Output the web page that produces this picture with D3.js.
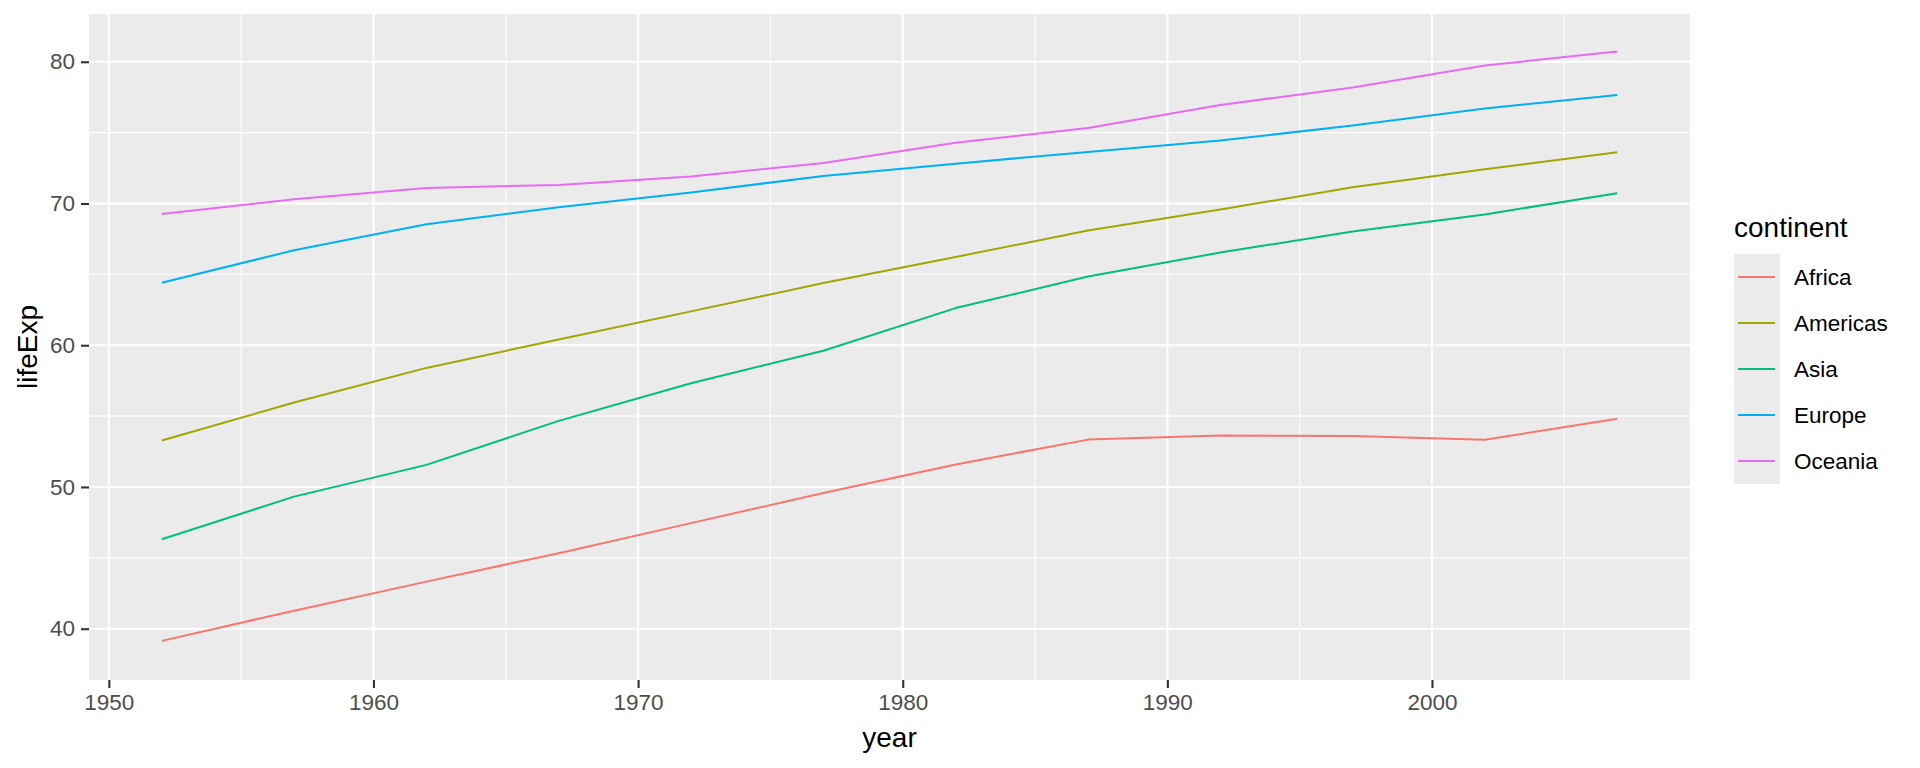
<!DOCTYPE html>
<html>
<head>
<meta charset="utf-8">
<script src="https://cdn.jsdelivr.net/npm/d3@7"></script>
<style>
  html, body { margin: 0; padding: 0; background: #fff; }
  svg { display: block; font-family: "Liberation Sans", Arial, sans-serif; }
</style>
</head>
<body>
<svg id="chart" width="1920" height="768"></svg>
<script>
// ---- data ----
const years = [1952, 1957, 1962, 1967, 1972, 1977, 1982, 1987, 1992, 1997, 2002, 2007];
const continents = ["Africa", "Americas", "Asia", "Europe", "Oceania"];
const africa   = [39.14, 41.27, 43.32, 45.33, 47.45, 49.58, 51.59, 53.34, 53.63, 53.60, 53.33, 54.81];
const americas = [53.28, 55.96, 58.40, 60.41, 62.39, 64.39, 66.23, 68.09, 69.57, 71.15, 72.42, 73.61];
const asia     = [46.31, 49.32, 51.56, 54.66, 57.32, 59.61, 62.62, 64.85, 66.54, 68.02, 69.23, 70.73];
const europe   = [64.41, 66.70, 68.54, 69.74, 70.78, 71.94, 72.81, 73.64, 74.44, 75.51, 76.70, 77.65];
const oceania  = [69.26, 70.30, 71.09, 71.31, 71.91, 72.86, 74.29, 75.32, 76.95, 78.19, 79.74, 80.72];
const seriesValues = [africa, americas, asia, europe, oceania];
const colors = ["#F8766D", "#A3A500", "#00BF7D", "#00B0F6", "#E76BF3"];
const xTicks = [1950, 1960, 1970, 1980, 1990, 2000];
const xMinor = [1955, 1965, 1975, 1985, 1995, 2005];
const yTicks = [40, 50, 60, 70, 80];
const yMinor = [45, 55, 65, 75];
const xDomain = [1949.25, 2009.75];
const yDomain = [36.38, 83.37];

// ---- layout ----
const svg = d3.select("#chart");
const panel = { left: 89, right: 1690, top: 14, bottom: 680 };
const x = d3.scaleLinear().domain(xDomain).range([panel.left, panel.right]);
const y = d3.scaleLinear().domain(yDomain).range([panel.bottom, panel.top]);

svg.append("rect")
  .attr("x", panel.left).attr("y", panel.top)
  .attr("width", panel.right - panel.left).attr("height", panel.bottom - panel.top)
  .attr("fill", "#EBEBEB");

const grid = svg.append("g");
grid.selectAll(".ymin").data(yMinor).enter().append("line")
  .attr("x1", panel.left).attr("x2", panel.right)
  .attr("y1", d => y(d)).attr("y2", d => y(d))
  .attr("stroke", "#fff").attr("stroke-width", 1.1);
grid.selectAll(".xmin").data(xMinor).enter().append("line")
  .attr("y1", panel.top).attr("y2", panel.bottom)
  .attr("x1", d => x(d)).attr("x2", d => x(d))
  .attr("stroke", "#fff").attr("stroke-width", 1.1);
grid.selectAll(".ymaj").data(yTicks).enter().append("line")
  .attr("x1", panel.left).attr("x2", panel.right)
  .attr("y1", d => y(d)).attr("y2", d => y(d))
  .attr("stroke", "#fff").attr("stroke-width", 2.1);
grid.selectAll(".xmaj").data(xTicks).enter().append("line")
  .attr("y1", panel.top).attr("y2", panel.bottom)
  .attr("x1", d => x(d)).attr("x2", d => x(d))
  .attr("stroke", "#fff").attr("stroke-width", 2.1);

// ---- lines ----
const line = d3.line().x((d, i) => x(years[i])).y(d => y(d));
svg.append("g").selectAll("path").data(seriesValues).enter().append("path")
  .attr("d", d => line(d))
  .attr("fill", "none")
  .attr("stroke", (d, i) => colors[i])
  .attr("stroke-width", 2)
  .attr("stroke-linejoin", "round");

// ---- axes ----
const xAxis = d3.axisBottom(x).tickValues(xTicks).tickFormat(d3.format("d")).tickSize(8).tickPadding(6);
const gx = svg.append("g").attr("transform", `translate(0,${panel.bottom})`).call(xAxis);
gx.select(".domain").remove();
gx.selectAll(".tick line").attr("stroke", "#333333").attr("stroke-width", 2.1);
gx.selectAll(".tick text").attr("fill", "#4D4D4D").attr("font-size", 22.5)
  .attr("font-family", "Liberation Sans, Arial, sans-serif");

const yAxis = d3.axisLeft(y).tickValues(yTicks).tickSize(8).tickPadding(6);
const gy = svg.append("g").attr("transform", `translate(${panel.left},0)`).call(yAxis);
gy.select(".domain").remove();
gy.selectAll(".tick line").attr("stroke", "#333333").attr("stroke-width", 2.1);
gy.selectAll(".tick text").attr("fill", "#4D4D4D").attr("font-size", 22.5)
  .attr("font-family", "Liberation Sans, Arial, sans-serif");

svg.append("text")
  .attr("x", (panel.left + panel.right) / 2).attr("y", 747)
  .attr("text-anchor", "middle").attr("font-size", 28).attr("fill", "#000")
  .text("year");
svg.append("text")
  .attr("transform", `translate(37,${(panel.top + panel.bottom) / 2}) rotate(-90)`)
  .attr("text-anchor", "middle").attr("font-size", 28).attr("fill", "#000")
  .text("lifeExp");

// ---- legend ----
const legend = svg.append("g");
legend.append("text").attr("x", 1734).attr("y", 236.5)
  .attr("font-size", 28).attr("fill", "#000").text("continent");
const keyH = 46, keyTop = 254;
const keys = legend.selectAll(".key").data(continents).enter().append("g")
  .attr("transform", (d, i) => `translate(1734,${keyTop + i * keyH})`);
keys.append("rect").attr("width", 46).attr("height", keyH).attr("fill", "#EBEBEB");
keys.append("line").attr("x1", 4).attr("x2", 41).attr("y1", keyH / 2).attr("y2", keyH / 2)
  .attr("stroke", (d, i) => colors[i]).attr("stroke-width", 2);
keys.append("text").attr("x", 60).attr("y", keyH / 2).attr("dy", "0.35em")
  .attr("font-size", 22.5).attr("fill", "#000").text(d => d);
</script>
</body>
</html>
